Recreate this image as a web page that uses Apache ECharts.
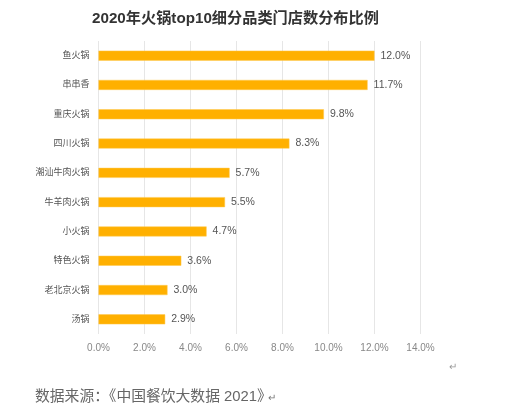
<!DOCTYPE html>
<html>
<head>
<meta charset="utf-8">
<script src="https://cdn.jsdelivr.net/npm/echarts@6/dist/echarts.min.js"></script>
<style>
    html, body {margin: 0; padding: 0; background: #fff;}
    #main {width: 509px; height: 418px;}
</style>
</head>
<body>
<div id="main"></div>
<script>
// 品类
const categories = ['鱼火锅', '串串香', '重庆火锅', '四川火锅', '潮汕牛肉火锅', '牛羊肉火锅', '小火锅', '特色火锅', '老北京火锅', '汤锅'];
// 门店数占比 (%)
const shares = [12.0, 11.7, 9.8, 8.3, 5.7, 5.5, 4.7, 3.6, 3.0, 2.9];
const xTicks = [0, 2, 4, 6, 8, 10, 12, 14];

const font = '"Liberation Sans", "Noto Sans CJK SC", sans-serif';
const chart = echarts.init(document.getElementById('main'));

chart.setOption({
    animation: false,
    textStyle: {fontFamily: font},
    title: [
        {
            text: '2020年火锅top10细分品类门店数分布比例',
            left: 87,
            top: 6,
            textStyle: {fontSize: 15.2, fontWeight: 'bold', color: '#333', fontFamily: font}
        },
        {
            text: '数据来源：《中国餐饮大数据 2021》',
            left: 30,
            top: 385,
            textStyle: {fontSize: 14.8, fontWeight: 'normal', color: '#666', fontFamily: font}
        },
        {
            text: '↵',
            left: 263,
            top: 388,
            textStyle: {fontSize: 10, fontWeight: 'normal', color: '#777', fontFamily: font}
        },
        {
            text: '↵',
            left: 444,
            top: 357,
            textStyle: {fontSize: 10, fontWeight: 'normal', color: '#999', fontFamily: font}
        }
    ],
    grid: {left: 98.5, right: 88.5, top: 41, bottom: 84},
    xAxis: {
        type: 'value',
        min: xTicks[0],
        max: xTicks[xTicks.length - 1],
        interval: 2,
        axisLine: {show: false},
        axisTick: {show: false},
        splitLine: {lineStyle: {color: '#e6e6e6'}},
        axisLabel: {
            color: '#888',
            fontSize: 10,
            margin: 9,
            formatter: (v) => v.toFixed(1) + '%'
        }
    },
    yAxis: {
        type: 'category',
        data: categories,
        inverse: true,
        axisLine: {show: false},
        axisTick: {show: false},
        axisLabel: {color: '#555', fontSize: 9, margin: 9}
    },
    series: [{
        type: 'bar',
        data: shares,
        barWidth: 10,
        itemStyle: {color: '#FFB000', borderColor: '#FFC94D', borderWidth: 0.5},
        label: {
            show: true,
            position: 'right',
            distance: 6,
            color: '#555',
            fontSize: 10.5,
            formatter: (p) => p.value.toFixed(1) + '%'
        }
    }]
});
</script>
</body>
</html>
